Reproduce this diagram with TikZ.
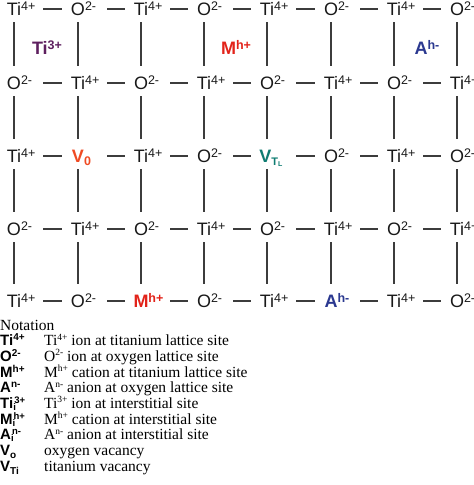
\documentclass[tikz,border=0pt]{standalone}
\usepackage{fontspec}
\setmainfont{Liberation Serif}
\newfontfamily\arial{Liberation Sans}
\definecolor{tipurple}{HTML}{5E1F5F}
\definecolor{mred}{HTML}{E2231A}
\definecolor{ablue}{HTML}{2B3990}
\definecolor{vorange}{HTML}{EF4B23}
\definecolor{vteal}{HTML}{0F7C72}
\definecolor{lgray}{HTML}{3C3C3C}
\newcommand\supr[1]{\raisebox{5pt}{\fontsize{12.5}{12.5}\selectfont #1}}
\newcommand\subr[1]{\raisebox{-3pt}{\fontsize{12.5}{12.5}\selectfont #1}}
\newcommand\Tiion{\hphantom{\supr{4+}}Ti\supr{4+}}
\newcommand\Oion{\hphantom{\supr{2-}}O\supr{2-}}
\newcommand\nsup[1]{\raisebox{5pt}{\fontsize{10}{10}\selectfont\bfseries #1}}
\newcommand\nsub[1]{\raisebox{-3pt}{\fontsize{10}{10}\selectfont\bfseries #1}}
\newcommand\nsubsup[2]{\rlap{\raisebox{-2pt}{\fontsize{9.5}{9.5}\selectfont\bfseries #1}}\hspace{1pt}\raisebox{5pt}{\fontsize{9.5}{9.5}\selectfont\bfseries #2}}
\newcommand\dsup[1]{\raisebox{5.5pt}{\fontsize{9.5}{9.5}\selectfont #1}}
\begin{document}
\begin{tikzpicture}[x=1pt,y=-1pt,
  lat/.style={font=\arial\fontsize{18}{18}\selectfont, inner sep=0pt, anchor=base, text=black!90},
  spec/.style={lat, font=\arial\bfseries\fontsize{18}{18}\selectfont},
  inter/.style={font=\arial\bfseries\fontsize{18}{18}\selectfont, inner sep=0pt, anchor=base},
  hl/.style={draw=lgray, line width=1.2pt, shorten <=29pt, shorten >=16pt},
  vl/.style={draw=lgray, line width=1.2pt, shorten <=7pt, shorten >=23pt},
  sym/.style={font=\arial\bfseries\fontsize{15}{15}\selectfont, inner sep=0pt, anchor=base west},
  desc/.style={font=\fontsize{15.5}{15.5}\selectfont, inner sep=0pt, anchor=base west}]
\useasboundingbox (0,0) rectangle (474,485);
% row 0
\node[lat] (n00) at (14,15) {\Tiion};
\node[lat] (n01) at (78,15) {\Oion};
\node[lat] (n02) at (141,15) {\Tiion};
\node[lat] (n03) at (204,15) {\Oion};
\node[lat] (n04) at (267,15) {\Tiion};
\node[lat] (n05) at (331,15) {\Oion};
\node[lat] (n06) at (394,15) {\Tiion};
\node[lat] (n07) at (457,15) {\Oion};
% row 1
\node[lat] (n10) at (14,89) {\Oion};
\node[lat] (n11) at (78,89) {\Tiion};
\node[lat] (n12) at (141,89) {\Oion};
\node[lat] (n13) at (204,89) {\Tiion};
\node[lat] (n14) at (267,89) {\Oion};
\node[lat] (n15) at (331,89) {\Tiion};
\node[lat] (n16) at (394,89) {\Oion};
\node[lat] (n17) at (457,89) {\Tiion};
% row 2
\node[lat] (n20) at (14,162) {\Tiion};
\node[spec, text=vorange] (n21) at (78,162) {\hphantom{\subr{0}}V\subr{0}};
\node[lat] (n22) at (141,162) {\Tiion};
\node[lat] (n23) at (204,162) {\Oion};
\node[spec, text=vteal] (n24) at (267,162) {\hphantom{\subr{T}}V\raisebox{-3.5pt}{\fontsize{11}{11}\selectfont T\raisebox{-1pt}{\fontsize{7}{7}\selectfont L}}};
\node[lat] (n25) at (331,162) {\Oion};
\node[lat] (n26) at (394,162) {\Tiion};
\node[lat] (n27) at (457,162) {\Oion};
% row 3
\node[lat] (n30) at (14,235) {\Oion};
\node[lat] (n31) at (78,235) {\Tiion};
\node[lat] (n32) at (141,235) {\Oion};
\node[lat] (n33) at (204,235) {\Tiion};
\node[lat] (n34) at (267,235) {\Oion};
\node[lat] (n35) at (331,235) {\Tiion};
\node[lat] (n36) at (394,235) {\Oion};
\node[lat] (n37) at (457,235) {\Tiion};
% row 4
\node[lat] (n40) at (14,307) {\Tiion};
\node[lat] (n41) at (78,307) {\Oion};
\node[spec, text=mred] (n42) at (141,307) {\hphantom{\supr{h+}}M\supr{h+}};
\node[lat] (n43) at (204,307) {\Oion};
\node[lat] (n44) at (267,307) {\Tiion};
\node[spec, text=ablue] (n45) at (331,307) {\hphantom{\supr{h-}}A\supr{h-}};
\node[lat] (n46) at (394,307) {\Tiion};
\node[lat] (n47) at (457,307) {\Oion};
% interstitials
\node[inter, text=tipurple] (iti) at (47,54) {Ti\supr{3+}};
\node[inter, text=mred] (im) at (236,54) {M\supr{h+}};
\node[inter, text=ablue] (ia) at (427,54) {A\supr{h-}};
% connectors
\foreach \r in {0,1,2,3,4} {
  \foreach \c/\d in {0/1,1/2,2/3,3/4,4/5,5/6,6/7} {
    \draw[hl] ([yshift=6pt]n\r\c.base) -- ([yshift=6pt]n\r\d.base);
  }
}
\foreach \r/\s in {0/1,1/2,2/3,3/4} {
  \foreach \c in {0,...,7} {
    \draw[vl] (n\r\c.base) -- (n\s\c.base);
  }
}
% notation
\node[desc] (nt) at (0,330) {Notation};
\node[sym] (s1) at (0,345.7) {Ti\nsup{4+}};
\node[desc] (d1) at (44,345.7) {Ti\dsup{4+} ion at titanium lattice site};
\node[sym] (s2) at (0,361.3) {O\nsup{2-}};
\node[desc] (d2) at (44,361.3) {O\dsup{2-} ion at oxygen lattice site};
\node[sym] (s3) at (0,377) {M\nsup{h+}};
\node[desc] (d3) at (44,377) {M\dsup{h+} cation at titanium lattice site};
\node[sym] (s4) at (0,392.7) {A\nsup{n-}};
\node[desc] (d4) at (44,392.7) {A\dsup{n-} anion at oxygen lattice site};
\node[sym] (s5) at (0,408.3) {Ti\nsubsup{i}{3+}};
\node[desc] (d5) at (44,408.3) {Ti\dsup{3+} ion at interstitial site};
\node[sym] (s6) at (0,424) {M\nsubsup{i}{h+}};
\node[desc] (d6) at (44,424) {M\dsup{h+} cation at interstitial site};
\node[sym] (s7) at (0,439.7) {A\nsubsup{i}{n-}};
\node[desc] (d7) at (44,439.7) {A\dsup{n-} anion at interstitial site};
\node[sym] (s8) at (0,455.3) {V\nsub{o}};
\node[desc] (d8) at (44,455.3) {oxygen vacancy};
\node[sym] (s9) at (0,471) {V\nsub{Ti}};
\node[desc] (d9) at (44,471) {titanium vacancy};
\end{tikzpicture}
\end{document}
